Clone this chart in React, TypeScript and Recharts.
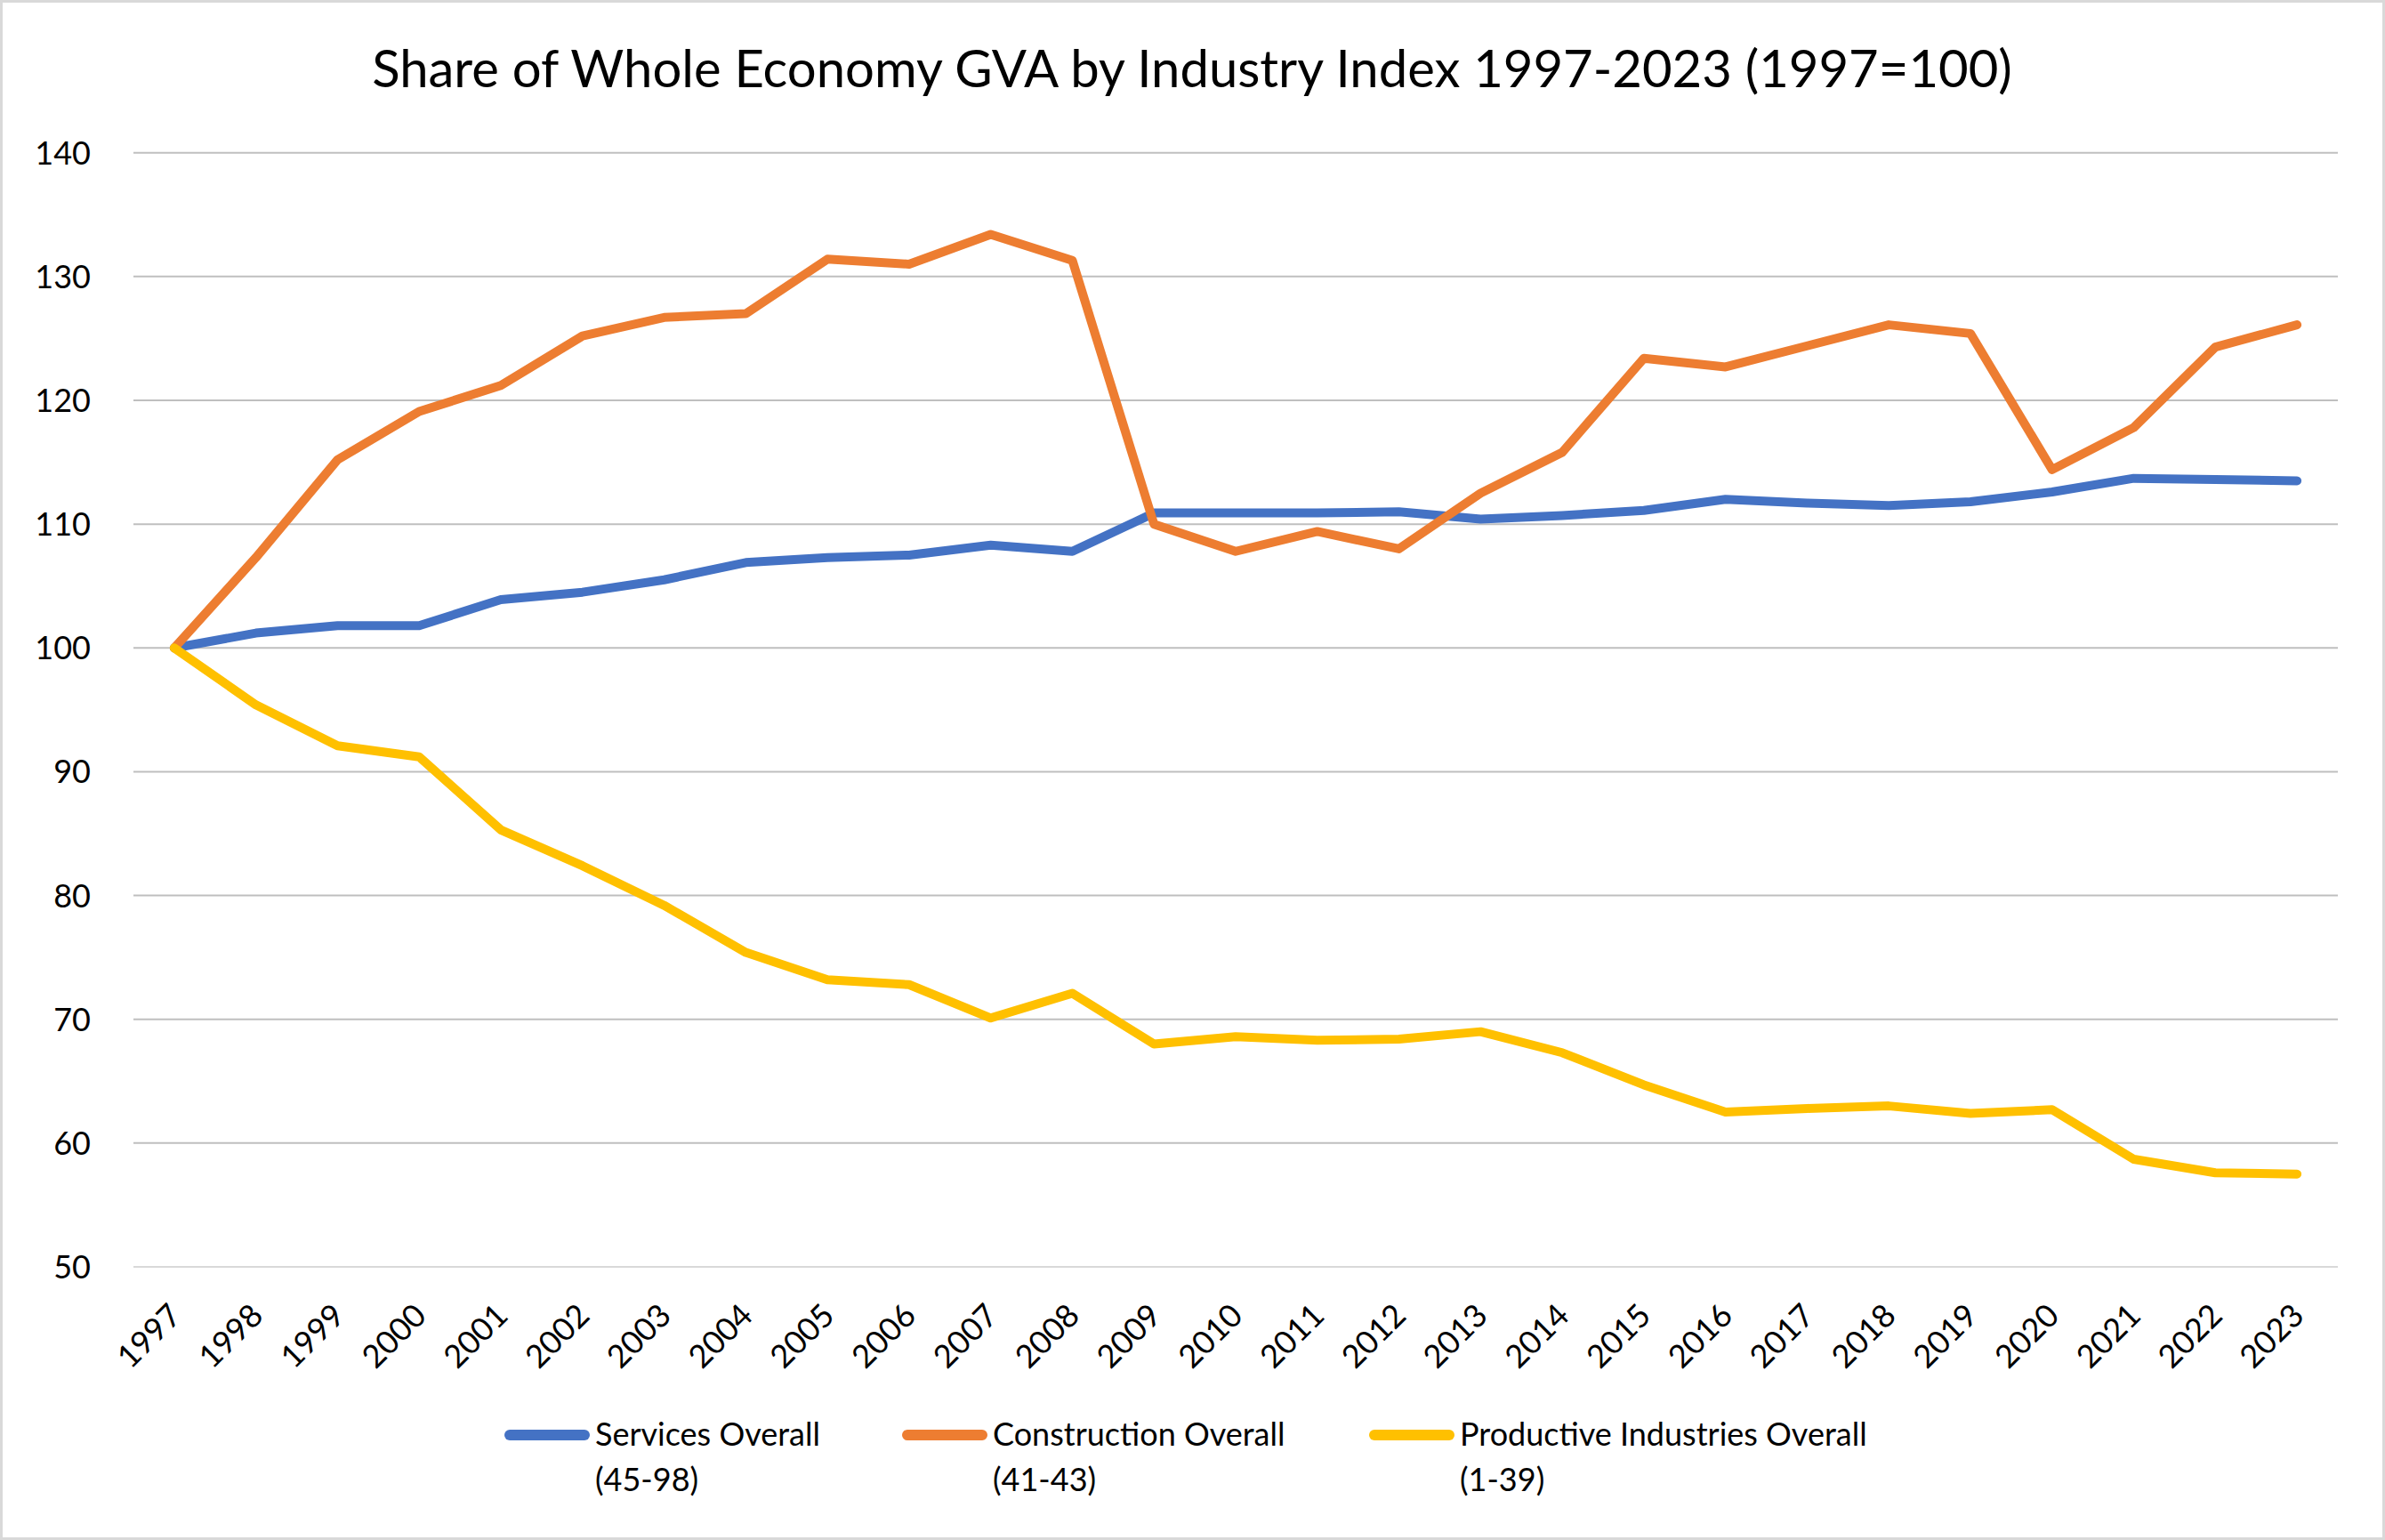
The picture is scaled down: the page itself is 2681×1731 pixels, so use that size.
import React from 'react';
import { LineChart, Line, XAxis, YAxis, CartesianGrid, Legend } from 'recharts';

const years = ['1997','1998','1999','2000','2001','2002','2003','2004','2005','2006','2007','2008','2009','2010','2011','2012','2013','2014','2015','2016','2017','2018','2019','2020','2021','2022','2023'];
const services = [100,101.2,101.8,101.8,103.9,104.5,105.5,106.9,107.3,107.5,108.3,107.8,110.9,110.9,110.9,111.0,110.4,110.7,111.1,112.0,111.7,111.5,111.8,112.6,113.7,113.6,113.5];
const construction = [100,107.3,115.2,119.1,121.2,125.2,126.7,127.0,131.4,131.0,133.4,131.3,110.0,107.8,109.4,108.0,112.5,115.8,123.4,122.7,124.4,126.1,125.4,114.4,117.8,124.3,126.1];
const productive = [100,95.4,92.1,91.2,85.3,82.4,79.2,75.4,73.2,72.8,70.1,72.1,68.0,68.6,68.3,68.4,69.0,67.3,64.7,62.5,62.8,63.0,62.4,62.7,58.7,57.6,57.5];
const yTicks = [50,60,70,80,90,100,110,120,130,140];

const seriesNames = ['Services Overall (45-98)', 'Construction Overall (41-43)', 'Productive Industries Overall (1-39)'];
const seriesColors = ['#4472C4', '#ED7D31', '#FFC000'];

const data = years.map((y, i) => ({
  year: y,
  services: services[i],
  construction: construction[i],
  productive: productive[i],
}));

const FONT = 'Lato, "Noto Sans", sans-serif';
const W = 2681;
const H = 1731;

const XTick = (props: any) => {
  const { x, y, payload } = props;
  return (
    <g transform={`translate(${x + 10},${y + 57})`}>
      <text textAnchor="end" transform="rotate(-45)" fontSize={36} fontFamily={FONT} fill="#000">
        {payload.value}
      </text>
    </g>
  );
};

const YTick = (props: any) => {
  const { x, y, payload } = props;
  return (
    <text x={x - 48} y={y} dy="0.36em" textAnchor="end" fontSize={36} fontFamily={FONT} fill="#000">
      {payload.value}
    </text>
  );
};

const itemWidths = [447, 525, 700];

const LegendContent = (props: any) => {
  const items = [...(props.payload || [])].sort(
    (a: any, b: any) => seriesNames.indexOf(a.value) - seriesNames.indexOf(b.value)
  );
  return (
    <div style={{ display: 'flex', paddingLeft: 567, fontFamily: FONT, fontSize: 36, lineHeight: '51px', color: '#000' }}>
      {items.map((entry: any, i: number) => {
        const name: string = entry.value;
        const idx = name.indexOf(' (');
        const l1 = idx >= 0 ? name.slice(0, idx) : name;
        const l2 = idx >= 0 ? name.slice(idx + 1) : '';
        return (
          <div key={i} style={{ display: 'flex', width: itemWidths[i], alignItems: 'flex-start' }}>
            <svg width={96} height={14} style={{ marginTop: 20, flex: 'none' }}>
              <line x1={6} y1={7} x2={90} y2={7} stroke={entry.color} strokeWidth={12} strokeLinecap="round" />
            </svg>
            <div style={{ marginLeft: 6, whiteSpace: 'nowrap' }}>
              <div>{l1}</div>
              <div>{l2}</div>
            </div>
          </div>
        );
      })}
    </div>
  );
};

export default function App() {
  return (
    <div style={{ position: 'absolute', left: 0, top: 0, width: W, height: H, background: '#fff', overflow: 'hidden' }}>
      <LineChart
        width={W}
        height={H}
        data={data}
        margin={{ top: 171.7, right: 53, bottom: 7, left: 0 }}
      >
        <CartesianGrid horizontal vertical={false} stroke="#bfbfbf" strokeWidth={2} />
        <XAxis
          dataKey="year"
          height={300}
          padding={{ left: 45.9, right: 45.9 }}
          axisLine={{ stroke: '#d9d9d9', strokeWidth: 2 }}
          tickLine={false}
          tickSize={0}
          tickMargin={0}
          interval={0}
          tick={<XTick />}
        />
        <YAxis
          width={150}
          domain={[50, 140]}
          ticks={yTicks}
          axisLine={false}
          tickLine={false}
          tickSize={0}
          tickMargin={0}
          interval={0}
          tick={<YTick />}
        />
        <Legend
          layout="horizontal"
          verticalAlign="middle"
          align="center"
          wrapperStyle={{ top: 1586, left: 0, width: W }}
          content={<LegendContent />}
        />
        <Line type="linear" dataKey="services" name={seriesNames[0]} stroke={seriesColors[0]} strokeWidth={10} dot={false} strokeLinecap="round" strokeLinejoin="round" isAnimationActive={false} />
        <Line type="linear" dataKey="construction" name={seriesNames[1]} stroke={seriesColors[1]} strokeWidth={10} dot={false} strokeLinecap="round" strokeLinejoin="round" isAnimationActive={false} />
        <Line type="linear" dataKey="productive" name={seriesNames[2]} stroke={seriesColors[2]} strokeWidth={10} dot={false} strokeLinecap="round" strokeLinejoin="round" isAnimationActive={false} />
      </LineChart>
      <svg width={W} height={H} style={{ position: 'absolute', left: 0, top: 0, pointerEvents: 'none' }}>
        <text x={1340} y={98} textAnchor="middle" fontSize={58} fontFamily={FONT} fill="#000">
          Share of Whole Economy GVA by Industry Index 1997-2023 (1997=100)
        </text>
        <rect x={1.5} y={1.5} width={W - 3} height={H - 3} fill="none" stroke="#d9d9d9" strokeWidth={3} />
      </svg>
    </div>
  );
}
